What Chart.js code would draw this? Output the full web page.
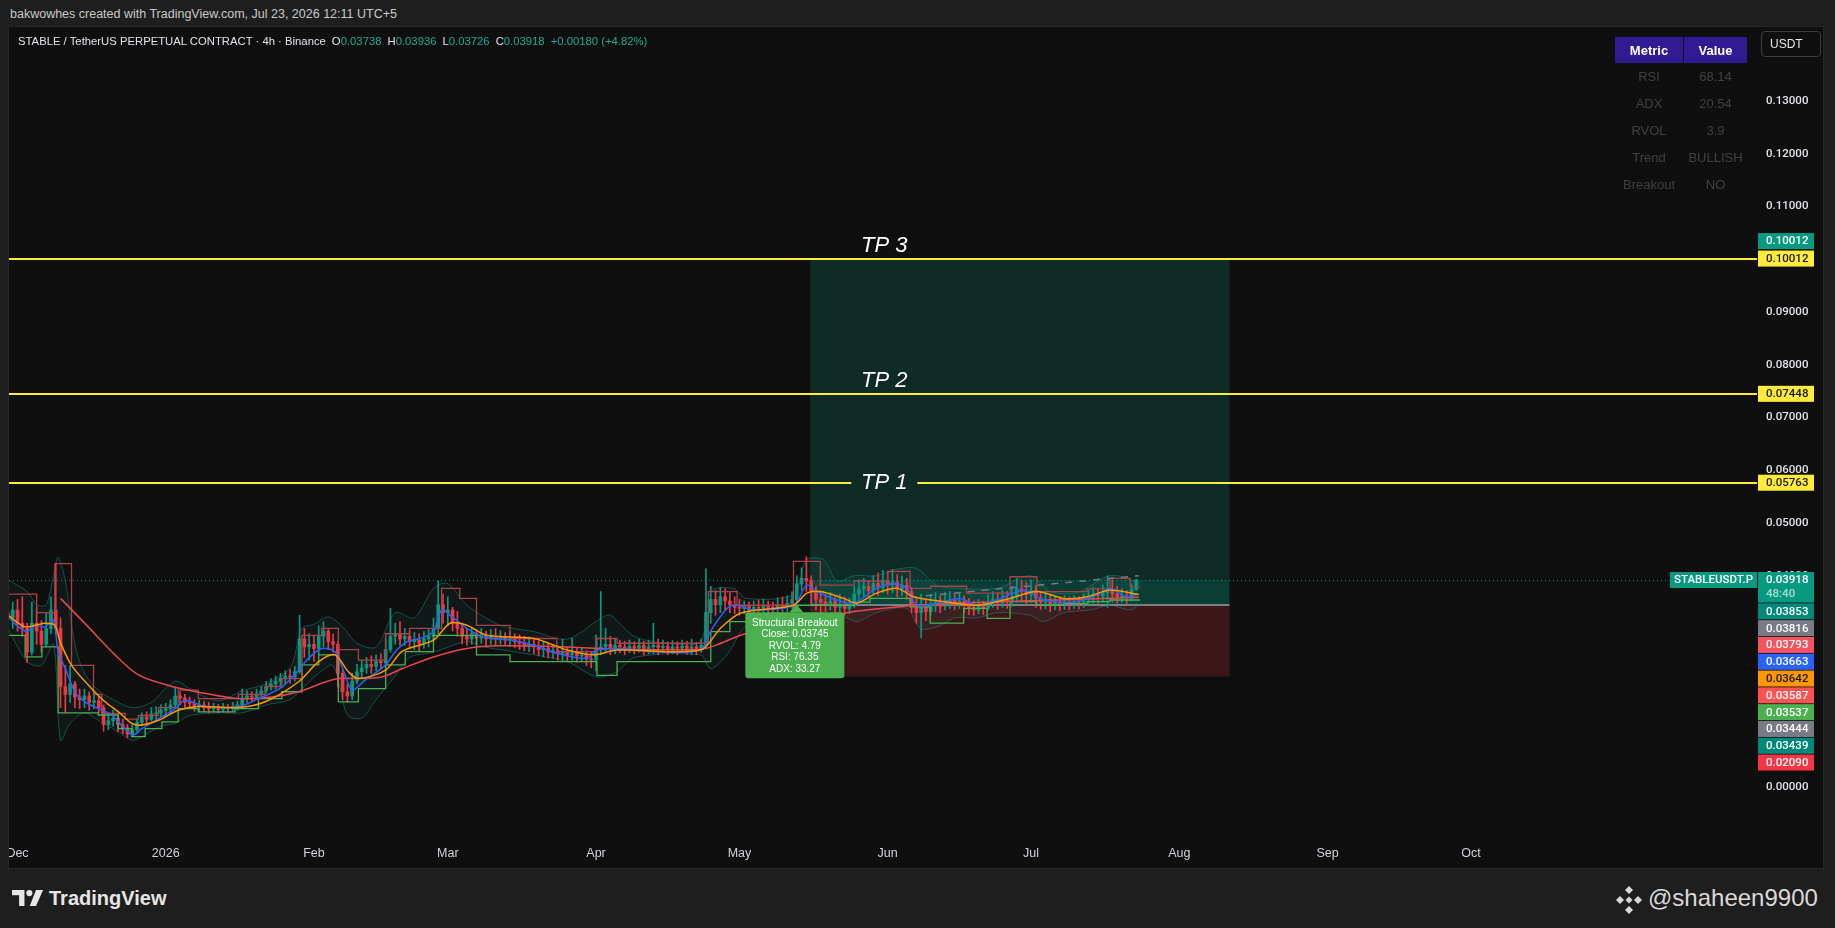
<!DOCTYPE html>
<html>
<head>
<meta charset="utf-8">
<script src="https://cdn.jsdelivr.net/npm/chart.js@4.4.1/dist/chart.umd.min.js"></script>
<style>
  html, body { margin: 0; padding: 0; background: #1e1e1e; }
  body { width: 1835px; height: 928px; position: relative; overflow: hidden; font-family: "Liberation Sans", Arial, sans-serif; }
  .abs { position: absolute; }
  #panel { left: 9px; top: 27px; width: 1814px; height: 841px; background: #0f0f0f; box-shadow: 0 0 0 1px #262626; }
  #wrap { left: 9px; top: 28px; width: 1814px; height: 840px; }
  #header { left: 10px; top: 7px; font-size: 12.5px; color: #c9c9c9; white-space: nowrap; }
  #legend { left: 18px; top: 35px; font-size: 11.3px; color: #e0e3eb; white-space: nowrap; }
  #legend .v { color: #22ab94; }
  #legend .k { margin-left: 6px; }
  .cell { position: absolute; display: flex; align-items: center; justify-content: center; font-size: 13px; }
  .head { background: #311b92; color: #fff; font-weight: bold; }
  .row { color: #404040; }
  #usdt { left: 1761px; top: 31px; width: 58px; height: 24px; border: 1px solid #3a3d45; border-radius: 4px; color: #e8e8e8; font-size: 12px; line-height: 24px; text-indent: 8px; }
  #tvtext { left: 49px; top: 886px; font-size: 20px; font-weight: bold; color: #e6e6e6; line-height: 24px; }
  #handle { left: 1648px; top: 884px; font-size: 24px; color: #d9d9d9; line-height: 28px; }
</style>
</head>
<body>
<div id="header" class="abs">bakwowhes created with TradingView.com, Jul 23, 2026 12:11 UTC+5</div>
<div id="panel" class="abs"></div>
<div id="wrap" class="abs"><canvas id="myChart"></canvas></div>
<div id="legend" class="abs"></div>
<div id="usdt" class="abs">USDT</div>
<div id="table"></div>
<svg class="abs" style="left:11px;top:890px" width="34" height="16" viewBox="0 0 36 18">
  <path d="M14 18H8V6H0V0h14z" fill="#e6e6e6"/>
  <circle cx="19.5" cy="3.5" r="3.5" fill="#e6e6e6"/>
  <path d="M27 18h-7L27 0h8z" fill="#e6e6e6"/>
</svg>
<div id="tvtext" class="abs">TradingView</div>
<svg class="abs" style="left:1616px;top:886px" width="26" height="28" viewBox="0 0 26 28">
  <g fill="#d8d8d8">
    <path d="M13 0l4 4-4 4-4-4z"/><path d="M13 20l4 4-4 4-4-4z"/>
    <path d="M4 10l4 4-4 4-4-4z"/><path d="M22 10l4 4-4 4-4-4z"/>
    <path d="M13 10.5l3.5 3.5-3.5 3.5-3.5-3.5z"/>
  </g>
</svg>
<div id="handle" class="abs">@shaheen9900</div>

<script>
// ---- data ----
// daily candles, first one is 2 days before Dec 1 2025 (day 0 = Dec 1)
const firstDay = -2;
const firstOpen = 0.0330;
const closes = [
  0.0320,0.0335,0.0310,0.0300,0.0255,0.0310,0.0295,0.0270,0.0300,0.0335,
  0.0300,0.0190,0.0175,0.0195,0.0170,0.0165,0.0172,0.0160,0.0163,0.0150,
  0.0118,0.0125,0.0130,0.0118,0.0112,0.0100,0.0108,0.0122,0.0132,0.0128,
  0.0138,0.0140,0.0145,0.0148,0.0155,0.0172,0.0168,0.0160,0.0158,0.0152,
  0.0155,0.0150,0.0148,0.0150,0.0146,0.0150,0.0148,0.0152,0.0155,0.0168,
  0.0172,0.0170,0.0176,0.0182,0.0190,0.0195,0.0200,0.0205,0.0210,0.0208,
  0.0218,0.0280,0.0265,0.0270,0.0262,0.0285,0.0295,0.0275,0.0270,0.0215,
  0.0180,0.0172,0.0200,0.0218,0.0225,0.0232,0.0228,0.0238,0.0235,0.0260,
  0.0285,0.0290,0.0280,0.0285,0.0275,0.0278,0.0272,0.0280,0.0285,0.0300,
  0.0345,0.0330,0.0335,0.0310,0.0300,0.0285,0.0280,0.0290,0.0282,0.0288,
  0.0280,0.0285,0.0280,0.0284,0.0278,0.0282,0.0275,0.0272,0.0268,0.0270,
  0.0265,0.0260,0.0262,0.0255,0.0258,0.0252,0.0255,0.0250,0.0253,0.0248,
  0.0250,0.0242,0.0240,0.0262,0.0265,0.0270,0.0262,0.0268,0.0265,0.0262,
  0.0266,0.0263,0.0268,0.0262,0.0265,0.0268,0.0264,0.0266,0.0262,0.0265,
  0.0263,0.0266,0.0262,0.0265,0.0262,0.0268,0.0330,0.0355,0.0345,0.0360,
  0.0352,0.0345,0.0340,0.0338,0.0342,0.0336,0.0340,0.0338,0.0342,0.0340,
  0.0338,0.0345,0.0342,0.0348,0.0355,0.0385,0.0395,0.0390,0.0370,0.0355,
  0.0350,0.0345,0.0352,0.0340,0.0345,0.0338,0.0342,0.0365,0.0375,0.0380,
  0.0372,0.0385,0.0378,0.0390,0.0382,0.0388,0.0375,0.0382,0.0370,0.0345,
  0.0330,0.0340,0.0332,0.0345,0.0350,0.0342,0.0350,0.0355,0.0348,0.0352,
  0.0345,0.0340,0.0335,0.0342,0.0338,0.0350,0.0355,0.0348,0.0355,0.0352,
  0.0360,0.0375,0.0370,0.0365,0.0372,0.0358,0.0350,0.0355,0.0345,0.0350,
  0.0346,0.0350,0.0348,0.0352,0.0350,0.0356,0.0360,0.0365,0.0362,0.0368,
  0.0372,0.0365,0.0360,0.0362,0.0358,0.03738,0.03918
];
const highs = [
  0.0392,0.0350,0.0355,0.0360,0.0310,0.0350,0.0340,0.0315,0.0330,0.0360,
  0.0423,0.0320,0.0230,0.0230,0.0200,0.0185,0.0185,0.0180,0.0178,0.0172,
  0.0155,0.0140,0.0145,0.0135,0.0128,0.0118,0.0120,0.0128,0.0140,0.0142,
  0.0150,0.0152,0.0155,0.0158,0.0165,0.0189,0.0180,0.0175,0.0170,0.0165,
  0.0164,0.0162,0.0160,0.0158,0.0156,0.0158,0.0156,0.0160,0.0162,0.0185,
  0.0182,0.0180,0.0185,0.0190,0.0200,0.0205,0.0210,0.0215,0.0220,0.0222,
  0.0228,0.0325,0.0300,0.0290,0.0285,0.0305,0.0313,0.0300,0.0290,0.0275,
  0.0220,0.0195,0.0215,0.0232,0.0240,0.0245,0.0248,0.0250,0.0252,0.0280,
  0.0338,0.0310,0.0313,0.0300,0.0295,0.0292,0.0290,0.0294,0.0298,0.0320,
  0.0390,0.0365,0.0360,0.0340,0.0332,0.0310,0.0300,0.0300,0.0298,0.0300,
  0.0295,0.0298,0.0300,0.0296,0.0292,0.0295,0.0290,0.0288,0.0285,0.0284,
  0.0280,0.0276,0.0275,0.0272,0.0270,0.0268,0.0280,0.0265,0.0282,0.0262,
  0.0264,0.0258,0.0255,0.0288,0.0370,0.0300,0.0285,0.0280,0.0278,0.0276,
  0.0278,0.0275,0.0280,0.0276,0.0278,0.0310,0.0280,0.0278,0.0275,0.0277,
  0.0275,0.0278,0.0276,0.0280,0.0274,0.0280,0.0413,0.0380,0.0372,0.0378,
  0.0375,0.0368,0.0360,0.0355,0.0352,0.0350,0.0352,0.0354,0.0356,0.0352,
  0.0350,0.0358,0.0360,0.0362,0.0370,0.0400,0.0415,0.0436,0.0400,0.0380,
  0.0370,0.0365,0.0368,0.0360,0.0365,0.0360,0.0358,0.0380,0.0392,0.0395,
  0.0390,0.0400,0.0405,0.0410,0.0408,0.0412,0.0402,0.0400,0.0395,0.0378,
  0.0360,0.0365,0.0355,0.0365,0.0368,0.0362,0.0368,0.0370,0.0365,0.0368,
  0.0362,0.0357,0.0352,0.0355,0.0352,0.0365,0.0370,0.0368,0.0372,0.0370,
  0.0380,0.0395,0.0392,0.0388,0.0392,0.0382,0.0370,0.0368,0.0365,0.0362,
  0.0360,0.0362,0.0360,0.0362,0.0360,0.0366,0.0372,0.0378,0.0376,0.0382,
  0.0400,0.0392,0.0380,0.0375,0.0372,0.0385,0.03936
];
const lows = [
  0.0300,0.0300,0.0295,0.0285,0.0235,0.0250,0.0270,0.0255,0.0265,0.0290,
  0.0290,0.0150,0.0140,0.0160,0.0150,0.0148,0.0150,0.0145,0.0148,0.0140,
  0.0105,0.0108,0.0115,0.0105,0.0100,0.0093,0.0095,0.0102,0.0115,0.0118,
  0.0125,0.0128,0.0132,0.0135,0.0140,0.0150,0.0155,0.0150,0.0148,0.0143,
  0.0142,0.0142,0.0140,0.0142,0.0140,0.0142,0.0141,0.0143,0.0145,0.0150,
  0.0160,0.0162,0.0165,0.0170,0.0178,0.0183,0.0185,0.0192,0.0195,0.0196,
  0.0200,0.0215,0.0245,0.0240,0.0238,0.0250,0.0265,0.0260,0.0255,0.0190,
  0.0165,0.0160,0.0165,0.0195,0.0205,0.0215,0.0215,0.0220,0.0222,0.0230,
  0.0255,0.0270,0.0268,0.0268,0.0262,0.0260,0.0258,0.0262,0.0265,0.0275,
  0.0290,0.0310,0.0305,0.0295,0.0285,0.0270,0.0268,0.0270,0.0270,0.0272,
  0.0268,0.0270,0.0268,0.0270,0.0268,0.0266,0.0264,0.0260,0.0258,0.0256,
  0.0252,0.0248,0.0246,0.0244,0.0243,0.0240,0.0240,0.0238,0.0240,0.0236,
  0.0238,0.0230,0.0225,0.0220,0.0250,0.0255,0.0250,0.0252,0.0254,0.0250,
  0.0254,0.0252,0.0255,0.0250,0.0252,0.0252,0.0250,0.0254,0.0250,0.0252,
  0.0250,0.0254,0.0251,0.0250,0.0250,0.0255,0.0262,0.0310,0.0325,0.0330,
  0.0335,0.0330,0.0328,0.0325,0.0328,0.0326,0.0328,0.0327,0.0330,0.0328,
  0.0326,0.0330,0.0330,0.0332,0.0338,0.0350,0.0372,0.0370,0.0345,0.0335,
  0.0320,0.0332,0.0335,0.0330,0.0332,0.0325,0.0328,0.0340,0.0355,0.0360,
  0.0358,0.0365,0.0362,0.0368,0.0365,0.0368,0.0360,0.0362,0.0355,0.0330,
  0.0310,0.0282,0.0315,0.0325,0.0332,0.0330,0.0335,0.0338,0.0335,0.0338,
  0.0330,0.0326,0.0325,0.0328,0.0326,0.0335,0.0340,0.0336,0.0340,0.0338,
  0.0342,0.0350,0.0352,0.0345,0.0350,0.0340,0.0336,0.0337,0.0332,0.0335,
  0.0334,0.0336,0.0335,0.0338,0.0337,0.0340,0.0345,0.0348,0.0348,0.0350,
  0.0340,0.0350,0.0348,0.0350,0.0346,0.0352,0.03726
];

// indicator lines: [day, price]
const blueEma = [[-2,.0322],[0.2,.0303],[2,.0294],[3.6,.0306],[5.7,.0303],[7.5,.0316],[8.5,.0256],[10,.0224],[12,.0180],[14.1,.0161],[16.9,.0148],[19.7,.0136],[22.5,.0110],[24.2,.0098],[26,.0110],[29.5,.0129],[33,.0148],[35,.0164],[39.2,.0152],[46.2,.0152],[50.4,.0167],[55.3,.0189],[58.8,.0221],[60.8,.0243],[63.6,.0262],[66.4,.0256],[68.5,.0212],[70,.0183],[72.7,.0202],[77,.0231],[79,.0256],[81.5,.0275],[84.2,.0281],[87,.0294],[88.7,.0335],[90.5,.0325],[94,.0300],[97.4,.0284],[103,.0278],[107.9,.0268],[112.8,.0253],[119,.0243],[121.2,.0259],[125.4,.0262],[133,.0256],[142.8,.0259],[144.9,.0294],[148.4,.0338],[150.5,.0344],[154,.0335],[162.3,.0344],[165.1,.0382],[167.2,.0370],[171.4,.0354],[174.9,.0348],[179.7,.0376],[183.2,.0385],[186,.0376],[188.1,.0344],[192.3,.0348],[197.2,.0357],[200.7,.0344],[204.9,.0354],[210.4,.0373],[214.6,.0354],[221.6,.0351],[227.2,.0370],[228.5,.0376],[232,.0360],[234.5,.0366]];
const orangeEma = [[-2,.0325],[1.6,.0303],[5.7,.0310],[7.8,.0306],[8.9,.0275],[11.3,.0230],[14.8,.0193],[18.3,.0161],[21.1,.0142],[23.9,.0120],[26,.0117],[29.5,.0126],[33.6,.0145],[37.8,.0152],[46.2,.0150],[51.8,.0161],[58.8,.0199],[63,.0237],[66.4,.0250],[69.2,.0218],[71.3,.0205],[77,.0221],[80.5,.0257],[87,.0278],[90.5,.0310],[94,.0306],[98.1,.0287],[108,.0281],[115,.0259],[120.5,.0250],[125.4,.0259],[142.8,.0259],[147,.0300],[151.2,.0329],[162.3,.0344],[165.1,.0367],[167.9,.0370],[172.8,.0357],[175.6,.0348],[179.7,.0367],[184,.0376],[187.4,.0360],[193.7,.0351],[200.7,.0344],[207.6,.0357],[213.2,.0370],[218.8,.0357],[223.7,.0360],[228.5,.0373],[234.5,.0364]];
const slowMa = [[9,.0357],[14.8,.0303],[20.4,.0250],[25.3,.0212],[32.3,.0190],[39.2,.0177],[46.2,.0167],[53.2,.0170],[58.8,.0180],[63.6,.0196],[67.1,.0205],[71.3,.0205],[76.2,.0208],[80.5,.0224],[87,.0246],[94,.0262],[101,.0267],[115,.0265],[122,.0262],[142.8,.0260],[146,.0268],[152.5,.0291],[163,.0310],[168,.0318],[175,.0332],[190,.0345],[210,.0352],[234.5,.0359]];
const supportSteps = [[-2,.0287],[1.6,.0246],[5.1,.0265],[8.5,.0140],[16.9,.0136],[21.1,.0110],[23.9,.0095],[26.7,.0110],[30.2,.0123],[33.6,.0148],[37.8,.0142],[45.5,.0148],[50.4,.0167],[55.3,.0180],[59.5,.0231],[63,.0250],[67.1,.0161],[71.3,.0186],[77,.0231],[81.1,.0256],[87,.0287],[96,.0250],[103,.0237],[121.2,.0211],[125.4,.0237],[145,.0294],[149,.0313],[162.3,.0344],[175,.0350],[178.3,.0357],[186.7,.0341],[190.9,.0310],[197.9,.0338],[202.8,.0319],[207.6,.0351],[213.2,.0344],[218.8,.0347],[223.7,.0351],[228.5,.0354],[234.8,.0354]];
const resistSteps = [[-2,.0365],[4,.0330],[7.8,.0423],[11.3,.0230],[15.9,.0175],[17.6,.0139],[22.5,.0128],[25.3,.0135],[29.5,.0150],[33.6,.0183],[37.8,.0167],[46.2,.0175],[51.8,.0190],[55.3,.0205],[59.5,.0287],[63.6,.0300],[67.1,.0260],[71.3,.0240],[77,.0290],[82,.0300],[88.7,.0376],[92.5,.0357],[96,.0306],[103,.0281],[112.8,.0256],[121.2,.0281],[125.4,.0272],[144.5,.0370],[150.5,.0344],[162.3,.0427],[167.9,.0382],[175,.0390],[182,.0408],[186.7,.0376],[191,.0380],[198.5,.0367],[207.6,.0398],[213.2,.0370],[223.7,.0375],[228.5,.0395],[232.7,.0379],[234.8,.0379]];
const bandUpper = [[-2,.0392],[2,.0370],[4,.0345],[6,.0345],[7.5,.0400],[8.5,.0435],[10,.0390],[12,.0270],[14,.0215],[17,.0182],[20,.0165],[24,.0150],[28,.0160],[33,.0200],[37,.0180],[42,.0163],[47,.0182],[52,.0195],[57,.0225],[59.5,.0300],[62,.0308],[65,.0322],[68,.0303],[71,.0272],[75,.0265],[79,.0330],[83,.0320],[87,.0376],[90,.0385],[94,.0344],[101,.0306],[108,.0294],[115,.0280],[122,.0319],[124,.0325],[129,.0285],[136,.0272],[142.8,.0275],[145,.0370],[149.7,.0376],[152.5,.0357],[162.3,.0365],[165,.0430],[168.6,.0430],[171.4,.0390],[175,.0400],[179.7,.0400],[183.2,.0411],[188,.0414],[192.3,.0382],[197,.0376],[204.9,.0376],[211.8,.0400],[216,.0370],[221.6,.0368],[227,.0395],[229.5,.0401],[233.4,.0390],[234.5,.0385]];
const bandLower = [[-2,.0300],[2,.0237],[5,.0230],[7.5,.0270],[9,.0088],[11,.0120],[14,.0140],[17,.0125],[21,.0105],[24,.0088],[27,.0100],[30,.0115],[33,.0120],[36,.0135],[42,.0140],[47,.0140],[52,.0155],[57,.0165],[60,.0190],[63,.0215],[66,.0230],[69,.0136],[72,.0130],[75,.0165],[79,.0210],[82,.0245],[87,.0255],[94,.0275],[97.5,.0265],[108,.0250],[115,.0237],[121.2,.0208],[125.4,.0218],[129,.0245],[142.8,.0250],[145,.0224],[148.4,.0250],[153,.0310],[162.3,.0320],[165.5,.0315],[168,.0325],[172.8,.0322],[175.6,.0313],[179.7,.0330],[186,.0338],[188.8,.0300],[192.3,.0303],[196,.0320],[200.7,.0320],[204.9,.0330],[211.8,.0325],[214.6,.0313],[218.8,.0330],[224.4,.0335],[228.5,.0344],[232.7,.0335],[234.5,.0344]];
const trendLine = [[190,.0362],[234.5,.0400]];

// month ticks (days since Dec 1 2025)
const monthTicks = [0, 31, 62, 90, 121, 151, 182, 212, 243, 274, 304];
const monthLabels = ['Dec', '2026', 'Feb', 'Mar', 'Apr', 'May', 'Jun', 'Jul', 'Aug', 'Sep', 'Oct'];
const priceTicks = [0, 0.01, 0.02, 0.03, 0.04, 0.05, 0.06, 0.07, 0.08, 0.09, 0.10, 0.11, 0.12, 0.13];

// trade setup
const lastPrice = 0.03918;
const countdown = '48:40';
const entryPrice = 0.03444;
const stopPrice = 0.02090;
const targetPrice = 0.10012;
const zoneStart = 165.8;
const zoneEnd = 253.5;
const tpNames = ['TP 1', 'TP 2', 'TP 3'];
const tpLevels = [0.05763, 0.07448, 0.10012];
const tpLabelDay = 181.3;
const indicatorMarks = [0.03853, 0.03816, 0.03793, 0.03663, 0.03642, 0.03587, 0.03537, 0.03444, 0.03439, 0.02090];

const breakoutDay = 162.9;
const breakoutPrice = 0.0344;
const breakoutLines = ['Structural Breakout', 'Close: 0.03745', 'RVOL: 4.79', 'RSI: 76.35', 'ADX: 33.27'];

const metricNames = ['RSI', 'ADX', 'RVOL', 'Trend', 'Breakout'];
const metricValues = ['68.14', '20.54', '3.9', 'BULLISH', 'NO'];

const symbolTitle = 'STABLE / TetherUS PERPETUAL CONTRACT · 4h · Binance';
const ohlcKeys = ['O', 'H', 'L', 'C'];
const ohlcValues = [0.03738, 0.03936, 0.03726, 0.03918];
const change = '+0.00180 (+4.82%)';
const symbolTag = 'STABLEUSDT.P';

// ---- styles ----
const upColor = '#089981';
const downColor = '#f23645';
const tpColor = '#ffeb3b';
const markColors = ['#00897b', '#787b86', '#f7525f', '#2962ff', '#ff9800', '#ff5252', '#4caf50', '#787b86', '#00897b', '#f23645'];
const markText = ['#fff', '#fff', '#fff', '#fff', '#131722', '#fff', '#fff', '#fff', '#fff', '#fff'];

// ---- html bits ----
let lg = symbolTitle;
ohlcKeys.forEach((k, i) => {
  lg += '<span class="k">' + k + '</span><span class="v">' + ohlcValues[i].toFixed(5) + '</span>';
});
lg += '<span class="v" style="margin-left:6px">' + change + '</span>';
document.getElementById('legend').innerHTML = lg;

const table = document.getElementById('table');
function cell(cls, x, y, w, h, txt) {
  const d = document.createElement('div');
  d.className = 'cell ' + cls;
  d.style.left = x + 'px'; d.style.top = y + 'px';
  d.style.width = w + 'px'; d.style.height = h + 'px';
  d.textContent = txt;
  table.appendChild(d);
}
cell('head', 1615, 37, 68, 26, 'Metric');
cell('head', 1684, 37, 63, 26, 'Value');
metricNames.forEach((m, i) => {
  cell('row', 1615, 63.5 + i * 26.8, 68, 26.8, m);
  cell('row', 1684, 63.5 + i * 26.8, 63, 26.8, metricValues[i]);
});

// ---- chart data ----
const opens = closes.map((c, i) => i === 0 ? firstOpen : closes[i - 1]);
const candleColors = closes.map((c, i) => c >= opens[i] ? upColor : downColor);
const wicks = closes.map((c, i) => ({ x: firstDay + i, y: [lows[i], highs[i]] }));
const bodies = closes.map((c, i) => ({ x: firstDay + i, y: [opens[i], c] }));
const pts = arr => arr.map(p => ({ x: p[0], y: p[1] }));

function lineSet(arr, color, extra) {
  return Object.assign({
    type: 'line', data: pts(arr), borderColor: color, borderWidth: 1.5,
    pointRadius: 0, fill: false, tension: 0.3, order: 2
  }, extra || {});
}

// ---- overlays ----
const overlay = {
  id: 'overlay',
  beforeDatasetsDraw(chart) {
    const { ctx, chartArea: a, scales: { x, y } } = chart;
    const x0 = x.getPixelForValue(zoneStart), x1 = x.getPixelForValue(zoneEnd);
    const yT = y.getPixelForValue(targetPrice), yE = y.getPixelForValue(entryPrice);
    const yS = y.getPixelForValue(stopPrice), yC = y.getPixelForValue(lastPrice);
    ctx.save();
    ctx.beginPath(); ctx.rect(a.left, a.top, a.width, a.height); ctx.clip();
    ctx.fillStyle = 'rgba(8,153,129,0.2)';
    ctx.fillRect(x0, yT, x1 - x0, yE - yT);
    ctx.fillStyle = 'rgba(242,54,69,0.2)';
    ctx.fillRect(x0, yE, x1 - x0, yS - yE);
    ctx.fillStyle = 'rgba(8,153,129,0.16)';
    ctx.fillRect(x0, yC, x1 - x0, yE - yC);
    ctx.strokeStyle = '#9a9da5'; ctx.lineWidth = 1.5;
    ctx.beginPath(); ctx.moveTo(x0, yE); ctx.lineTo(x1, yE); ctx.stroke();
    ctx.restore();
  },
  afterDatasetsDraw(chart) {
    const { ctx, chartArea: a, scales: { x, y } } = chart;
    ctx.save();
    ctx.beginPath(); ctx.rect(a.left, a.top, a.width, a.height); ctx.clip();

    // current price dotted line
    const yC = y.getPixelForValue(lastPrice);
    ctx.strokeStyle = upColor; ctx.lineWidth = 1; ctx.setLineDash([1, 3]);
    ctx.beginPath(); ctx.moveTo(a.left, yC + 0.5); ctx.lineTo(a.right, yC + 0.5); ctx.stroke();
    ctx.setLineDash([]);

    // take-profit lines
    const cx = x.getPixelForValue(tpLabelDay);
    ctx.font = 'italic 22px "Liberation Sans"';
    ctx.textAlign = 'center'; ctx.textBaseline = 'middle';
    tpLevels.forEach((v, i) => {
      const yy = Math.round(y.getPixelForValue(v));
      ctx.strokeStyle = tpColor; ctx.lineWidth = 2;
      ctx.beginPath();
      if (i === 0) {
        ctx.moveTo(a.left, yy); ctx.lineTo(cx - 33, yy);
        ctx.moveTo(cx + 33, yy); ctx.lineTo(a.right, yy);
      } else {
        ctx.moveTo(a.left, yy); ctx.lineTo(a.right, yy);
      }
      ctx.stroke();
      ctx.fillStyle = '#ffffff';
      ctx.fillText(tpNames[i], cx, i === 0 ? yy : yy - 13);
    });

    // breakout label
    const bx = x.getPixelForValue(breakoutDay), by = y.getPixelForValue(breakoutPrice);
    const w = 99, h = 66, top = by + 7, left = bx - 51;
    ctx.fillStyle = '#4caf50';
    ctx.beginPath();
    ctx.moveTo(bx - 7, top); ctx.lineTo(bx, top - 8); ctx.lineTo(bx + 7, top); ctx.closePath();
    ctx.fill();
    ctx.beginPath(); ctx.roundRect(left, top, w, h, 3); ctx.fill();
    ctx.fillStyle = '#ffffff';
    ctx.font = '10px "Liberation Sans"';
    breakoutLines.forEach((t, i) => ctx.fillText(t, left + w / 2, top + 11 + i * 11.4));
    ctx.restore();
  },
  afterDraw(chart) {
    const { ctx, chartArea: a, scales: { y } } = chart;
    const bx = a.right + 1, bw = 56;
    ctx.save();
    ctx.textBaseline = 'middle'; ctx.textAlign = 'left';
    ctx.font = '500 11.5px Roboto';
    const box = (top, bg, fg, txt) => {
      ctx.fillStyle = bg; ctx.fillRect(bx, top, bw, 16);
      ctx.fillStyle = fg; ctx.fillText(txt, bx + 8, top + 8.5);
    };
    tpLevels.forEach(v => box(y.getPixelForValue(v) - 8, tpColor, '#131722', v.toFixed(5)));
    box(y.getPixelForValue(targetPrice) - 8 - 17.5, upColor, '#fff', targetPrice.toFixed(5));

    const yC = y.getPixelForValue(lastPrice);
    const top = yC - 8;
    ctx.fillStyle = upColor; ctx.fillRect(bx, top, bw, 30.5);
    ctx.fillStyle = '#fff'; ctx.fillText(lastPrice.toFixed(5), bx + 8, top + 8.5);
    ctx.fillStyle = '#a7ddd3'; ctx.fillText(countdown, bx + 8, top + 22.5);
    let next = top + 31.3;
    indicatorMarks.forEach((v, i) => {
      const t = Math.max(y.getPixelForValue(v) - 8, next);
      box(t, markColors[i], markText[i], v.toFixed(5));
      next = t + 16.8;
    });

    // symbol tag at the price line
    const tw = ctx.measureText(symbolTag).width + 8;
    ctx.fillStyle = upColor; ctx.fillRect(a.right - tw, top, tw, 16);
    ctx.fillStyle = '#fff'; ctx.fillText(symbolTag, a.right - tw + 4, top + 8.5);
    ctx.restore();
  }
};

const ctx = document.getElementById('myChart').getContext('2d');
const myChart = new Chart(ctx, {
  type: 'bar',
  data: {
    datasets: [
      lineSet(bandUpper, 'rgba(38,166,154,0.4)', { borderWidth: 1, order: 10 }),
      lineSet(bandLower, 'rgba(38,166,154,0.4)', { borderWidth: 1, order: 10, fill: '-1', backgroundColor: 'rgba(38,166,154,0.07)' }),
      { type: 'bar', data: wicks, backgroundColor: candleColors, barThickness: 1, grouped: false, order: 5 },
      { type: 'bar', data: bodies, backgroundColor: candleColors, barThickness: 3, grouped: false, order: 5 },
      lineSet(resistSteps, '#a8434b', { stepped: true, tension: 0, borderWidth: 1.3, order: 4 }),
      lineSet(supportSteps, '#4caf50', { stepped: true, tension: 0, borderWidth: 1.3, order: 4 }),
      lineSet(slowMa, '#e8474f', { order: 3 }),
      lineSet(orangeEma, '#ff9800'),
      lineSet(blueEma, '#2962ff'),
      lineSet(trendLine, '#787b86', { borderDash: [7, 7], tension: 0, order: 1 })
    ]
  },
  options: {
    responsive: true,
    maintainAspectRatio: false,
    animation: false,
    events: [],
    layout: { padding: 0 },
    plugins: { legend: { display: false }, tooltip: { enabled: false } },
    scales: {
      x: {
        type: 'linear', min: -1.78, max: 363.83, offset: false,
        grid: { display: false, drawTicks: false }, border: { display: false },
        ticks: {
          autoSkip: false, maxRotation: 0, padding: 4, color: '#d1d4dc',
          font: { family: 'Liberation Sans', size: 12.5 },
          callback: v => monthLabels[monthTicks.indexOf(v)]
        },
        afterBuildTicks: s => { s.ticks = monthTicks.map(v => ({ value: v })); },
        afterFit: s => { s.height = 26; s.paddingLeft = 0; s.paddingRight = 0; }
      },
      y: {
        position: 'right', min: -0.01048, max: 0.14383,
        grid: { display: false, drawTicks: false }, border: { display: false },
        ticks: {
          padding: 9, color: '#e1e3ea',
          font: { family: 'Roboto', size: 11.5, weight: 500 },
          callback: v => v.toFixed(5)
        },
        afterBuildTicks: s => { s.ticks = priceTicks.map(v => ({ value: v })); },
        afterFit: s => { s.width = 66; s.paddingTop = 0; s.paddingBottom = 0; }
      }
    }
  },
  plugins: [overlay]
});
</script>
</body>
</html>
